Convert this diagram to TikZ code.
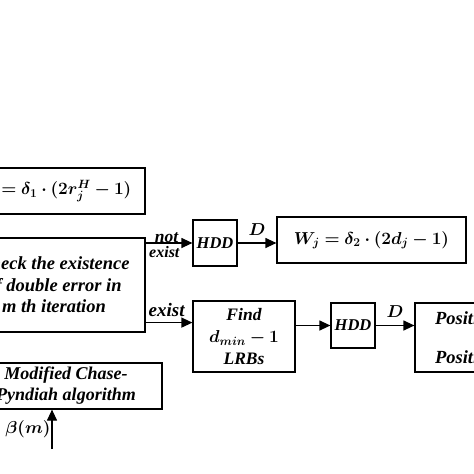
\documentclass[tikz,border=0pt]{standalone}
\usepackage{amsmath}
\usepackage{bm}
\usepackage{fontspec}
\setmainfont{Liberation Serif}
\usepackage{tikz}
\usetikzlibrary{arrows.meta,positioning}

\begin{document}
\begin{tikzpicture}[x=1pt,y=-1pt,
    block/.style={draw,line width=1.2pt,inner sep=2pt,align=center,
      font=\fontsize{18.5}{21.5}\selectfont\bfseries\itshape},
    small/.style={font=\fontsize{16.5}{22}\selectfont\bfseries\itshape},
    arr/.style={line width=1.2pt,-{Triangle[length=11pt,width=10pt]}},
    lab/.style={font=\fontsize{16}{17}\selectfont\bfseries\itshape,inner sep=1pt}]
  \useasboundingbox (0,0) rectangle (474,474);
  \clip (0,0) rectangle (474,474);
  % first row
  \node [block,small,minimum width=188,minimum height=46] (wone) at (51,191)
    {$\bm{W_j = \delta_1 \cdot (2r_j^H - 1)}$};
  \node [block,minimum width=182,minimum height=94] (chk) at (54,285)
    {Check the existence\\of double error in\\m th iteration};
  \node [block,small,minimum width=44,minimum height=46] (hdda) at (215,243) {HDD};
  \node [block,small,minimum width=189,minimum height=46] (wtwo) at (371.5,240)
    {$\bm{W_j = \delta_2 \cdot (2d_j - 1)}$};
  % second row
  \node [block,font=\fontsize{17.5}{22}\selectfont\bfseries\itshape,
    minimum width=102,minimum height=71] (find) at (244,336.5)
    {Find\\$\bm{d_{min} - 1}$\\LRBs};
  \node [block,small,minimum width=44,minimum height=45] (hddb) at (353,325.5) {HDD};
  \node [block,minimum height=69,text width=100,inner xsep=20,align=left] (pos) at (485,337.5)
    {Position\\[18pt]Position};
  \node [block,font=\fontsize{18}{21}\selectfont\bfseries\itshape,
    minimum width=192,minimum height=46] (mcp) at (66,386)
    {Modified Chase-\\Pyndiah algorithm};
  \coordinate (beta) at (52,449);
  % connectors
  \draw [arr] (chk.east |- hdda.west) -- (hdda.west)
    node [lab,font=\fontsize{17.5}{19}\selectfont\bfseries\itshape,pos=0.45,above=-1pt] {not}
    node [lab,pos=0.4,below=2pt] {exist};
  \draw [arr] (hdda.east) -- (hdda.east -| wtwo.west)
    node [lab,font=\fontsize{18}{20}\selectfont,midway,above=6pt] {$\bm{D}$};
  \draw [arr] ([yshift=10pt]chk.south east) -- ([yshift=10pt]chk.south east -| find.west)
    node [lab,font=\fontsize{19}{21}\selectfont\bfseries\itshape,pos=0.45,above=4pt] {exist};
  \draw [arr] (find.east |- hddb.west) -- (hddb.west);
  \draw [arr] (hddb.east) -- (hddb.east -| pos.west)
    node [lab,font=\fontsize{18}{20}\selectfont,midway,above=6pt] {$\bm{D}$};
  \draw [arr] (beta) -- (beta |- mcp.south)
    node [lab,font=\fontsize{18}{20}\selectfont,pos=0.5,left] {$\bm{\beta(m)}$};
\end{tikzpicture}
\end{document}
